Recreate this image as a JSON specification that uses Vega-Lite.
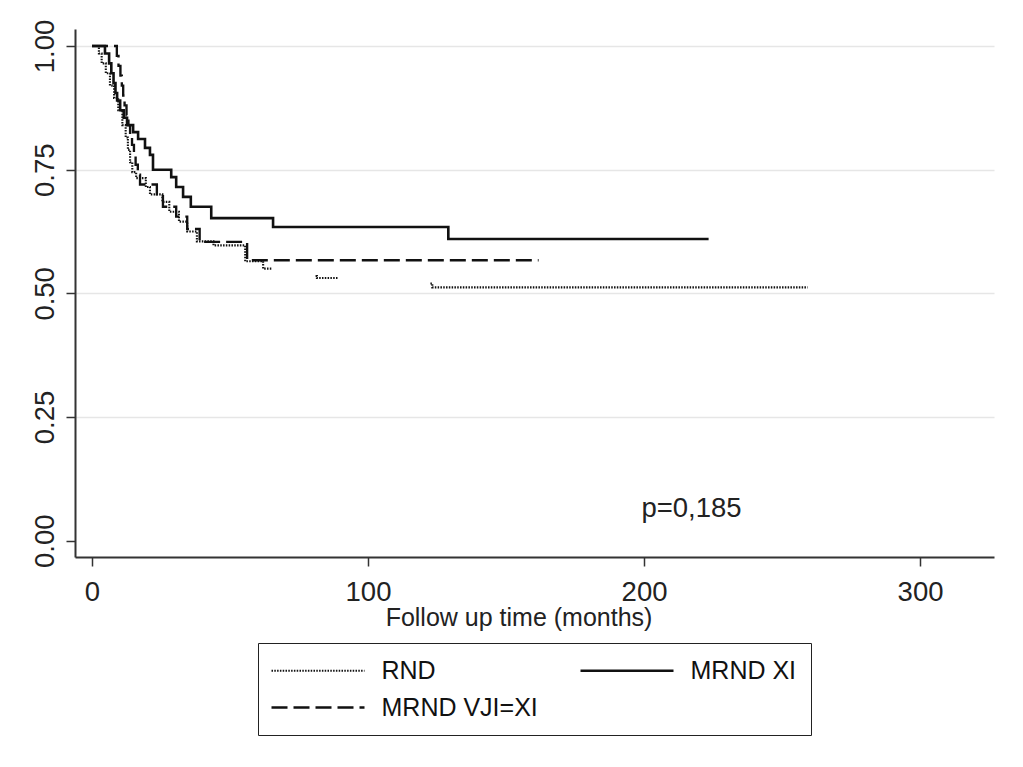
{
  "$schema": "https://vega.github.io/schema/vega-lite/v6.json",
  "width": 919,
  "height": 528,
  "autosize": "none",
  "padding": {"left": 75, "top": 29, "right": 29, "bottom": 210},
  "background": "white",
  "config": {
    "view": {"stroke": null},
    "font": "Liberation Sans",
    "axis": {
      "domainColor": "#333",
      "domainWidth": 2,
      "tickColor": "#333",
      "tickWidth": 1.5,
      "tickSize": 9,
      "labelFont": "Liberation Sans",
      "labelFontSize": 27.5,
      "labelColor": "#222",
      "titleFont": "Liberation Sans",
      "titleFontWeight": "normal",
      "titleColor": "#222"
    }
  },
  "datasets": {
    "curves": [
      {"g": "MRND XI", "part": "a", "t": 0, "s": 1},
      {"g": "MRND XI", "part": "a", "t": 4.7, "s": 0.985},
      {"g": "MRND XI", "part": "a", "t": 6.2, "s": 0.965},
      {"g": "MRND XI", "part": "a", "t": 7.0, "s": 0.945},
      {"g": "MRND XI", "part": "a", "t": 7.8, "s": 0.925},
      {"g": "MRND XI", "part": "a", "t": 8.5, "s": 0.905},
      {"g": "MRND XI", "part": "a", "t": 9.1, "s": 0.89},
      {"g": "MRND XI", "part": "a", "t": 10.2, "s": 0.87},
      {"g": "MRND XI", "part": "a", "t": 11.5, "s": 0.855},
      {"g": "MRND XI", "part": "a", "t": 12.7, "s": 0.84},
      {"g": "MRND XI", "part": "a", "t": 14.9, "s": 0.826},
      {"g": "MRND XI", "part": "a", "t": 16.7, "s": 0.812},
      {"g": "MRND XI", "part": "a", "t": 19.2, "s": 0.794},
      {"g": "MRND XI", "part": "a", "t": 21.0, "s": 0.78},
      {"g": "MRND XI", "part": "a", "t": 22.1, "s": 0.75},
      {"g": "MRND XI", "part": "a", "t": 28.7, "s": 0.735},
      {"g": "MRND XI", "part": "a", "t": 30.5, "s": 0.715},
      {"g": "MRND XI", "part": "a", "t": 33.0, "s": 0.695},
      {"g": "MRND XI", "part": "a", "t": 35.8, "s": 0.675},
      {"g": "MRND XI", "part": "a", "t": 43.2, "s": 0.652},
      {"g": "MRND XI", "part": "a", "t": 65.6, "s": 0.634},
      {"g": "MRND XI", "part": "a", "t": 129.1, "s": 0.61},
      {"g": "MRND XI", "part": "a", "t": 223.4, "s": 0.61},

      {"g": "MRND VJI=XI", "part": "a", "t": 0, "s": 1},
      {"g": "MRND VJI=XI", "part": "a", "t": 9.0, "s": 0.98},
      {"g": "MRND VJI=XI", "part": "a", "t": 9.6, "s": 0.96},
      {"g": "MRND VJI=XI", "part": "a", "t": 10.3, "s": 0.94},
      {"g": "MRND VJI=XI", "part": "a", "t": 10.8, "s": 0.92},
      {"g": "MRND VJI=XI", "part": "a", "t": 11.3, "s": 0.9},
      {"g": "MRND VJI=XI", "part": "a", "t": 11.8, "s": 0.88},
      {"g": "MRND VJI=XI", "part": "a", "t": 12.5, "s": 0.86},
      {"g": "MRND VJI=XI", "part": "a", "t": 13.2, "s": 0.84},
      {"g": "MRND VJI=XI", "part": "a", "t": 13.8, "s": 0.82},
      {"g": "MRND VJI=XI", "part": "a", "t": 14.5, "s": 0.8},
      {"g": "MRND VJI=XI", "part": "a", "t": 15.2, "s": 0.78},
      {"g": "MRND VJI=XI", "part": "a", "t": 15.8, "s": 0.76},
      {"g": "MRND VJI=XI", "part": "a", "t": 16.6, "s": 0.74},
      {"g": "MRND VJI=XI", "part": "a", "t": 17.4, "s": 0.72},
      {"g": "MRND VJI=XI", "part": "a", "t": 23.5, "s": 0.7},
      {"g": "MRND VJI=XI", "part": "a", "t": 25.7, "s": 0.675},
      {"g": "MRND VJI=XI", "part": "a", "t": 30.5, "s": 0.655},
      {"g": "MRND VJI=XI", "part": "a", "t": 34.5, "s": 0.63},
      {"g": "MRND VJI=XI", "part": "a", "t": 39.0, "s": 0.604},
      {"g": "MRND VJI=XI", "part": "a", "t": 56.2, "s": 0.567},
      {"g": "MRND VJI=XI", "part": "a", "t": 161.8, "s": 0.567},

      {"g": "RND", "part": "a", "t": 0, "s": 1},
      {"g": "RND", "part": "a", "t": 2.5, "s": 0.985},
      {"g": "RND", "part": "a", "t": 3.5, "s": 0.965},
      {"g": "RND", "part": "a", "t": 5.0, "s": 0.945},
      {"g": "RND", "part": "a", "t": 6.5, "s": 0.92},
      {"g": "RND", "part": "a", "t": 8.0, "s": 0.895},
      {"g": "RND", "part": "a", "t": 9.5, "s": 0.87},
      {"g": "RND", "part": "a", "t": 11.0, "s": 0.84},
      {"g": "RND", "part": "a", "t": 12.2, "s": 0.815},
      {"g": "RND", "part": "a", "t": 13.0, "s": 0.79},
      {"g": "RND", "part": "a", "t": 13.8, "s": 0.765},
      {"g": "RND", "part": "a", "t": 14.6, "s": 0.745},
      {"g": "RND", "part": "a", "t": 16.0, "s": 0.733},
      {"g": "RND", "part": "a", "t": 19.5, "s": 0.715},
      {"g": "RND", "part": "a", "t": 21.0, "s": 0.7},
      {"g": "RND", "part": "a", "t": 25.5, "s": 0.685},
      {"g": "RND", "part": "a", "t": 28.0, "s": 0.665},
      {"g": "RND", "part": "a", "t": 31.5, "s": 0.645},
      {"g": "RND", "part": "a", "t": 34.5, "s": 0.625},
      {"g": "RND", "part": "a", "t": 38.0, "s": 0.605},
      {"g": "RND", "part": "a", "t": 44.0, "s": 0.597},
      {"g": "RND", "part": "a", "t": 55.5, "s": 0.565},
      {"g": "RND", "part": "a", "t": 62.0, "s": 0.55},
      {"g": "RND", "part": "a", "t": 65.0, "s": 0.55},
      {"g": "RND", "part": "b", "t": 81.0, "s": 0.535},
      {"g": "RND", "part": "b", "t": 81.5, "s": 0.531},
      {"g": "RND", "part": "b", "t": 89.0, "s": 0.531},
      {"g": "RND", "part": "c", "t": 122.6, "s": 0.52},
      {"g": "RND", "part": "c", "t": 123.3, "s": 0.512},
      {"g": "RND", "part": "c", "t": 259.3, "s": 0.512}
    ],
    "notes": [
      {"t": 217.2, "s": 0.048, "label": "p=0,185"}
    ]
  },
  "layer": [
    {
      "data": {"name": "curves"},
      "mark": {"type": "line", "interpolate": "step-after", "color": "#111", "strokeCap": "butt"},
      "encoding": {
        "x": {
          "field": "t",
          "type": "quantitative",
          "scale": {"domain": [-6.16, 326.8], "nice": false, "zero": false},
          "axis": {
            "values": [0, 100, 200, 300],
            "grid": false,
            "labelPadding": 12,
            "title": "Follow up time (months)",
            "titleFontSize": 25,
            "titleX": 443.5,
            "titleY": 68,
            "titleBaseline": "alphabetic"
          }
        },
        "y": {
          "field": "s",
          "type": "quantitative",
          "scale": {"domain": [-0.033, 1.0344], "nice": false, "zero": false},
          "axis": {
            "values": [0, 0.25, 0.5, 0.75, 1],
            "format": ".2f",
            "title": null,
            "labelAngle": -90,
            "labelAlign": "center",
            "labelBaseline": "alphabetic",
            "labelPadding": 13,
            "grid": true,
            "gridColor": "#e6e6e6",
            "gridWidth": 1.5,
            "gridOpacity": {"condition": {"test": "datum.value === 0", "value": 0}, "value": 1}
          }
        },
        "strokeDash": {
          "field": "g",
          "type": "nominal",
          "scale": {
            "domain": ["RND", "MRND VJI=XI", "MRND XI"],
            "range": [[1.5, 1.3], [16, 6], [1, 0]]
          },
          "legend": {
            "title": null,
            "orient": "none",
            "legendX": 183,
            "legendY": 614,
            "columns": 2,
            "gridAlign": "each",
            "columnPadding": 37,
            "rowPadding": 10,
            "padding": 14,
            "strokeColor": "#222",
            "symbolType": "M-3.875,0H3.875",
            "symbolSize": 576,
            "symbolOffset": 32.5,
            "symbolStrokeWidth": 2,
            "symbolStrokeColor": "#111",
            "labelFont": "Liberation Sans",
            "labelFontSize": 25,
            "labelColor": "#111",
            "labelOffset": 50,
            "labelLimit": 400
          }
        },
        "strokeWidth": {
          "field": "g",
          "type": "nominal",
          "scale": {"domain": ["RND", "MRND VJI=XI", "MRND XI"], "range": [2.1, 2.6, 3]},
          "legend": null
        },
        "detail": {"field": "part", "type": "nominal"}
      }
    },
    {
      "data": {"name": "notes"},
      "mark": {"type": "text", "font": "Liberation Sans", "fontSize": 27.5, "color": "#222", "align": "center", "baseline": "alphabetic"},
      "encoding": {
        "x": {"field": "t", "type": "quantitative"},
        "y": {"field": "s", "type": "quantitative"},
        "text": {"field": "label"}
      }
    }
  ]
}
